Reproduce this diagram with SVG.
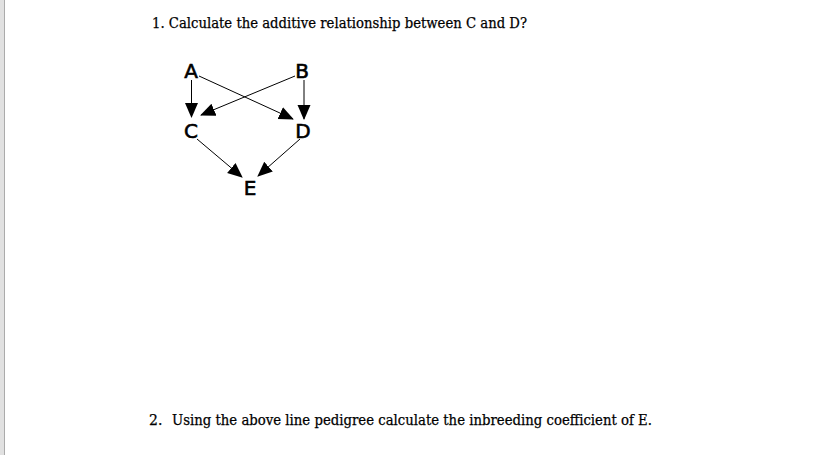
<svg xmlns="http://www.w3.org/2000/svg" width="814" height="455" viewBox="0 0 814 455">
<style>
.q{font-family:"DejaVu Serif","Liberation Serif",serif;font-size:14px;fill:#000;stroke:#000;stroke-width:0.25}
.n{font-family:"DejaVu Sans","Liberation Sans",sans-serif;font-size:20px;fill:#000;stroke:#000;stroke-width:0.6;text-anchor:middle}
.e{stroke:#000;stroke-width:1;fill:none;marker-end:url(#ah)}
</style>
<defs>
<marker id="ah" markerUnits="userSpaceOnUse" markerWidth="16" markerHeight="14" refX="14" refY="6.5" orient="auto">
<path d="M0,0 L15,6.5 L0,13 z" fill="#000"/>
</marker>
</defs>
<rect x="0" y="0" width="814" height="455" fill="#fff"/>
<rect x="0" y="0" width="4" height="455" fill="#e1e1e1"/>
<rect x="4" y="0" width="1" height="455" fill="#ababab"/>
<text class="q" x="152" y="28" textLength="375" lengthAdjust="spacingAndGlyphs">1. Calculate the additive relationship between C and D?</text>
<text class="q" x="149" y="425">2.</text>
<text class="q" x="172" y="425" textLength="480" lengthAdjust="spacingAndGlyphs">Using the above line pedigree calculate the inbreeding coefficient of E.</text>
<g id="connectors">
<line class="e" x1="191.5" y1="80" x2="191.5" y2="117"/>
<line class="e" x1="304" y1="80" x2="304" y2="119"/>
<line class="e" x1="199" y1="76" x2="293" y2="119"/>
<line class="e" x1="295" y1="76" x2="201" y2="115"/>
<line class="e" x1="197" y1="139" x2="242" y2="177"/>
<line class="e" x1="300" y1="139" x2="258" y2="176"/>
</g>
<g id="node-A"><text class="n" x="191" y="78">A</text></g>
<g id="node-B"><text class="n" x="302" y="78">B</text></g>
<g id="node-C"><text class="n" x="191" y="138">C</text></g>
<g id="node-D"><text class="n" x="303" y="138">D</text></g>
<g id="node-E"><text class="n" x="250" y="195">E</text></g>
</svg>
